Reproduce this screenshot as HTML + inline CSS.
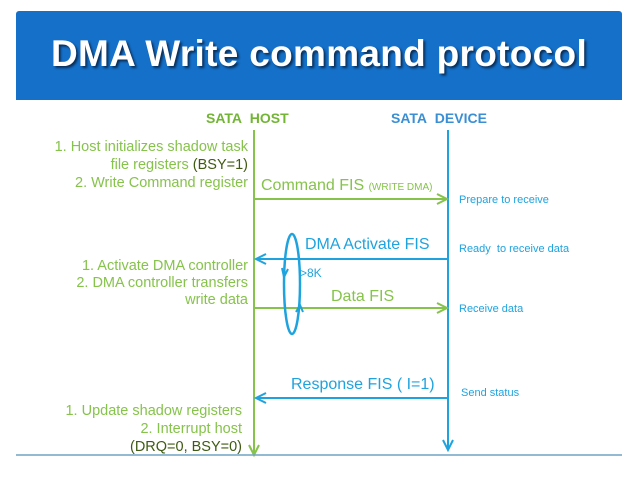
<!DOCTYPE html>
<html><head><style>
body{margin:0;width:638px;height:478px;background:#fff;position:relative;overflow:hidden;font-family:"Liberation Sans",sans-serif}
.banner{position:absolute;left:16px;top:11px;width:606px;height:89px;background:#1470c8;border-radius:3px 3px 0 0}
.title{position:absolute;left:16px;top:33px;width:606px;text-align:center;color:#fff;font-weight:bold;font-size:37px;letter-spacing:0.3px;text-shadow:2px 2px 2px #0a2f5a}
.t{position:absolute;white-space:nowrap}
.g{color:#86c34b}.b{color:#1fa3de}.dg{color:#3f5a12}
.r{text-align:right}
</style></head><body>
<div class="banner"></div>
<div class="title">DMA Write command protocol</div>
<div class="t" style="left:206px;top:110px;font-size:14px;font-weight:bold;color:#72b535">SATA&nbsp; HOST</div>
<div class="t" style="left:391px;top:110px;font-size:14px;font-weight:bold;color:#3a8fd4">SATA&nbsp; DEVICE</div>
<svg width="638" height="478" style="position:absolute;left:0;top:0">
<line x1="254" y1="130" x2="254" y2="455" stroke="#86c34b" stroke-width="2"/>
<polyline points="249,445 254,455 259,445" fill="none" stroke="#86c34b" stroke-width="2"/>
<line x1="448" y1="130" x2="448" y2="450" stroke="#1fa3de" stroke-width="2"/>
<polyline points="443,440 448,450 453,440" fill="none" stroke="#1fa3de" stroke-width="2"/>
<line x1="254" y1="199" x2="447" y2="199" stroke="#86c34b" stroke-width="2"/>
<polyline points="437,194 447,199 437,204" fill="none" stroke="#86c34b" stroke-width="2"/>
<line x1="256" y1="259" x2="448" y2="259" stroke="#1fa3de" stroke-width="2"/>
<polyline points="266,254 256,259 266,264" fill="none" stroke="#1fa3de" stroke-width="2"/>
<line x1="254" y1="308" x2="447" y2="308" stroke="#86c34b" stroke-width="2"/>
<polyline points="437,303 447,308 437,313" fill="none" stroke="#86c34b" stroke-width="2"/>
<line x1="256" y1="398" x2="448" y2="398" stroke="#1fa3de" stroke-width="2"/>
<polyline points="266,393 256,398 266,403" fill="none" stroke="#1fa3de" stroke-width="2"/>
<ellipse cx="292" cy="284" rx="8" ry="50" fill="none" stroke="#1fa3de" stroke-width="2.5"/>
<polyline points="282,268 284,277 288,269" fill="none" stroke="#1fa3de" stroke-width="2"/>
<polyline points="296,312 300,305 303,312" fill="none" stroke="#1fa3de" stroke-width="2"/>
<line x1="16" y1="455" x2="622" y2="455" stroke="#6fa3c4" stroke-width="1.5"/>
</svg>
<div class="t g r" style="right:390px;top:138px;font-size:14.5px;line-height:18px">1. Host initializes shadow task<br>file registers <span class="dg">(BSY=1)</span><br>2. Write Command register</div>
<div class="t g" style="left:261px;top:177px;font-size:16px">Command FIS <span style="font-size:10px">(WRITE DMA)</span></div>
<div class="t b" style="left:459px;top:194px;font-size:11px">Prepare to receive</div>
<div class="t b" style="left:305px;top:236px;font-size:16px">DMA Activate FIS</div>
<div class="t b" style="left:459px;top:243px;font-size:11px">Ready&nbsp; to receive data</div>
<div class="t b" style="left:300px;top:266px;font-size:12px">&gt;8K</div>
<div class="t g r" style="right:390px;top:258px;font-size:14.5px;line-height:17px">1. Activate DMA controller<br>2. DMA controller transfers<br>write data</div>
<div class="t g" style="left:331px;top:288px;font-size:16px">Data FIS</div>
<div class="t b" style="left:459px;top:303px;font-size:11px">Receive data</div>
<div class="t b" style="left:291px;top:376px;font-size:16px">Response FIS ( I=1)</div>
<div class="t b" style="left:461px;top:387px;font-size:11px">Send status</div>
<div class="t g r" style="right:396px;top:402px;font-size:14.5px;line-height:18px">1. Update shadow registers<br>2. Interrupt host<br><span class="dg">(DRQ=0, BSY=0)</span></div>
</body></html>
